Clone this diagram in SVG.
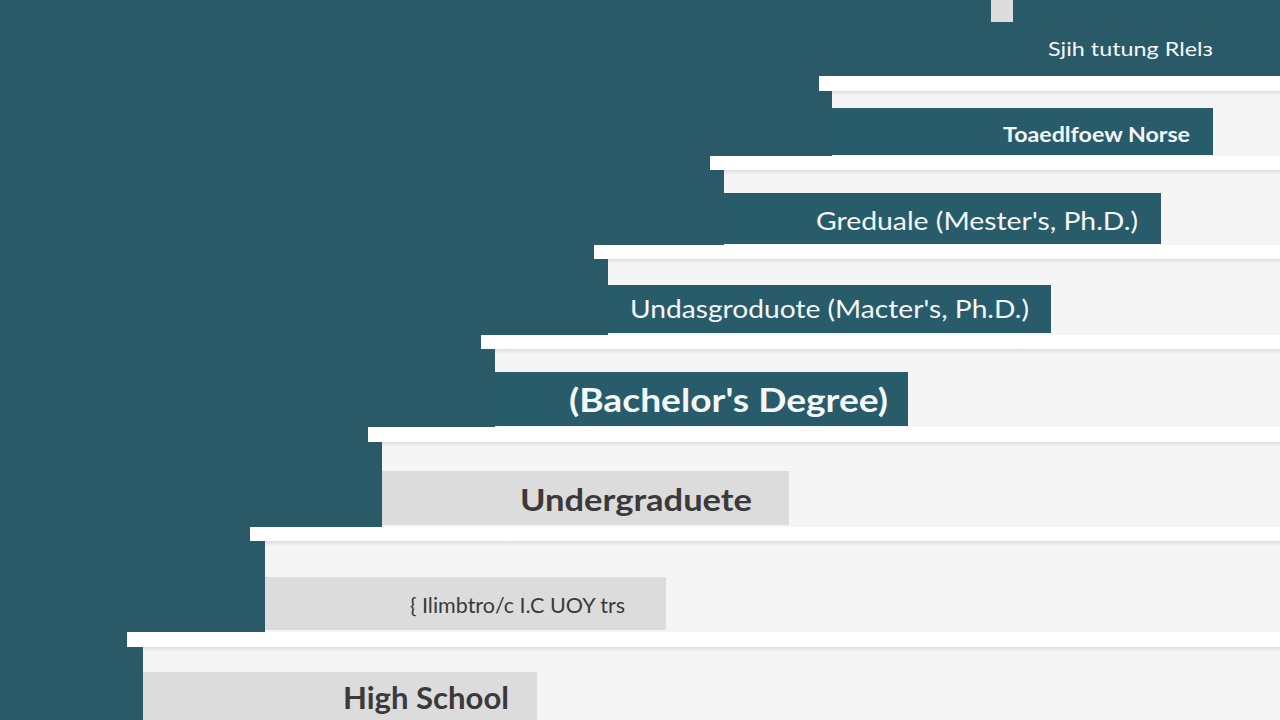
<svg xmlns="http://www.w3.org/2000/svg" width="1280" height="720" viewBox="0 0 1280 720">
  <defs>
    <linearGradient id="shade" x1="0" y1="0" x2="0" y2="1">
      <stop offset="0" stop-color="#dedede"/>
      <stop offset="1" stop-color="#f5f5f5"/>
    </linearGradient>
    <style>
      .bg{fill:#2a5a68}
      .lip{fill:#ffffff}
      .riser{fill:#f5f5f5}
      .shade{fill:url(#shade)}
      .gbox{fill:#dcdcdc}
      .tbox{fill:#295c6a}
      .dt{font-family:"Lato","Open Sans","Noto Sans",sans-serif;fill:#3a3a3a;text-anchor:end}
      .wt{font-family:"Lato","Open Sans","Noto Sans",sans-serif;fill:#f4f7f8;text-anchor:end}
    </style>
  </defs>
  <rect class="bg" x="0" y="0" width="1280" height="720"/>
  <rect x="991" y="0" width="22" height="22" fill="#dcdcdc"/>
  <text class="wt" x="1213" y="56" font-size="20" font-weight="400" textLength="165" lengthAdjust="spacingAndGlyphs">Sjih tutung Rlelз</text>

  <g id="step7">
    <rect class="lip" x="819" y="76" width="461" height="15"/>
    <rect class="riser" x="832" y="91" width="448" height="65"/>
    <rect class="shade" x="832" y="91" width="448" height="5"/>
    <rect class="tbox" x="832" y="108" width="381" height="47"/>
    <text class="wt" x="1190" y="142" font-size="21" font-weight="700" textLength="187" lengthAdjust="spacingAndGlyphs">Toaedlfoew Norse</text>
  </g>
  <g id="step6">
    <rect class="lip" x="710" y="156" width="570" height="14"/>
    <rect class="riser" x="724" y="170" width="556" height="75"/>
    <rect class="shade" x="724" y="170" width="556" height="5"/>
    <rect class="tbox" x="724" y="193" width="437" height="51"/>
    <text class="wt" x="1138" y="230" font-size="25" font-weight="400" textLength="322" lengthAdjust="spacingAndGlyphs">Greduale (Mester's, Ph.D.)</text>
  </g>
  <g id="step5">
    <rect class="lip" x="594" y="245" width="686" height="14"/>
    <rect class="riser" x="608" y="259" width="672" height="76"/>
    <rect class="shade" x="608" y="259" width="672" height="5"/>
    <rect class="tbox" x="608" y="285" width="443" height="48"/>
    <text class="wt" x="1029" y="318" font-size="25" font-weight="400" textLength="399" lengthAdjust="spacingAndGlyphs">Undasgroduote (Macter's, Ph.D.)</text>
  </g>
  <g id="step4">
    <rect class="lip" x="481" y="335" width="799" height="14"/>
    <rect class="riser" x="495" y="349" width="785" height="78"/>
    <rect class="shade" x="495" y="349" width="785" height="5"/>
    <rect class="tbox" x="495" y="372" width="413" height="54"/>
    <text class="wt" x="888" y="412" font-size="33" font-weight="700" textLength="319" lengthAdjust="spacingAndGlyphs">(Bachelor's Degree)</text>
  </g>
  <g id="step3">
    <rect class="lip" x="368" y="427" width="912" height="15"/>
    <rect class="riser" x="382" y="442" width="898" height="85"/>
    <rect class="shade" x="382" y="442" width="898" height="5"/>
    <rect class="gbox" x="382" y="471" width="407" height="54"/>
    <text class="dt" x="752" y="511" font-size="31" font-weight="700" textLength="232" lengthAdjust="spacingAndGlyphs">Undergraduete</text>
  </g>
  <g id="step2">
    <rect class="lip" x="250" y="527" width="1030" height="14"/>
    <rect class="riser" x="265" y="541" width="1015" height="91"/>
    <rect class="shade" x="265" y="541" width="1015" height="5"/>
    <rect class="gbox" x="265" y="577" width="401" height="53"/>
    <text class="dt" x="625" y="613" font-size="21" font-weight="400" textLength="215" lengthAdjust="spacingAndGlyphs">{ Ilimbtro/c I.C UOY trs</text>
  </g>
  <g id="step1">
    <rect class="lip" x="127" y="632" width="1153" height="15"/>
    <rect class="riser" x="143" y="647" width="1137" height="73"/>
    <rect class="shade" x="143" y="647" width="1137" height="5"/>
    <rect class="gbox" x="143" y="672" width="394" height="48"/>
    <text class="dt" x="509" y="709" font-size="31" font-weight="700" textLength="166" lengthAdjust="spacingAndGlyphs">High School</text>
  </g>
  <g id="connectors"/>
</svg>
